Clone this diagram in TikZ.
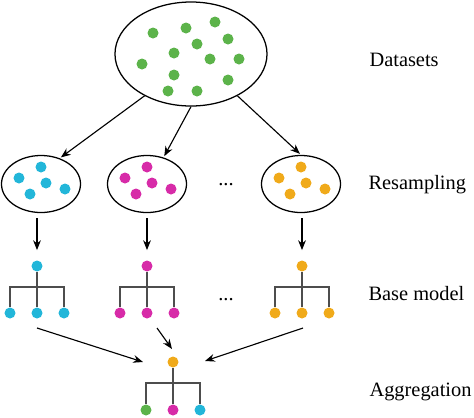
\documentclass[tikz,border=0pt]{standalone}
\usepackage{fontspec}
\setmainfont{Liberation Serif}
\usepackage[HTML]{xcolor}
\usepackage{tikz}
\usetikzlibrary{positioning, arrows, arrows.meta, shapes.geometric, calc}

\definecolor{dsgreen}{HTML}{5CB34A}
\definecolor{dscyan}{HTML}{22B6D9}
\definecolor{dsmagenta}{HTML}{D72BA8}
\definecolor{dsorange}{HTML}{F0AA1A}
\definecolor{treegray}{HTML}{4D4D4D}

\tikzset{
    dot/.style={circle, fill=#1, inner sep=0pt, minimum size=0.275cm},
    pool/.style={ellipse, draw, line width=0.9pt, inner sep=0pt},
    branch/.style={draw=treegray, line width=0.9pt},
    rowtext/.style={anchor=base west, inner sep=0pt, font=\fontsize{14.5}{17}\selectfont}
}

\begin{document}
\begin{tikzpicture}[x=0.025cm, y=-0.025cm, >={Stealth[length=7pt, width=5.5pt]}, line width=0.8pt]
    \useasboundingbox (0,0) rectangle (474,417);

    % Define nodes
    \node[pool, minimum width=3.8cm, minimum height=2.6cm] (data) at (191,54) {};
    \foreach \x/\y [count=\i] in {153/33, 186/28, 215/22, 228/39, 197/44, 174/53, 210/59,
                                   239/59, 142/64, 174/75, 228/80, 168/91, 197/91}
        \node[dot=dsgreen] (g\i) at (\x,\y) {};

    \foreach \k/\cx/\col in {1/41/dscyan, 2/147/dsmagenta, 3/301/dsorange}{
        \node[pool, minimum width=1.975cm, minimum height=1.425cm] (rs\k) at (\cx,184) {};
        \foreach \dx/\dy [count=\i] in {0/-17, -22/-6, 5/-1, 24/5, -11/10}
            \node[dot=\col] (s\k\i) at (\cx+\dx,184+\dy) {};
    }

    \foreach \k/\cx/\col in {1/37/dscyan, 2/147/dsmagenta, 3/302/dsorange}{
        \node[dot=\col] (m\k) at (\cx,266) {};
        \coordinate (j\k) at (\cx,287);
        \foreach \dx [count=\i] in {-27,0,27}
            \node[dot=\col] (m\k\i) at (\cx+\dx,313) {};
        \draw[branch] (m\k) -- (m\k2);
        \draw[branch] (m\k1) |- (j\k) -| (m\k3);
    }

    \node[dot=dsorange] (agg) at (173,362) {};
    \coordinate (jagg) at (173,383);
    \node[dot=dsgreen] (agg1) at (146,410) {};
    \node[dot=dsmagenta] (agg2) at (173,410) {};
    \node[dot=dscyan] (agg3) at (200,410) {};
    \draw[branch] (agg) -- (agg2);
    \draw[branch] (agg1) |- (jagg) -| (agg3);

    \node[rowtext] (tdata) at (369,66) {Datasets};
    \node[rowtext] (tres) at (368,189) {Resampling};
    \node[rowtext] (tbase) at (368,300) {Base model};
    \node[rowtext] (tagg) at (369,396) {Aggregation};
    \node[rowtext, anchor=base] (dots1) at (226,185) {...};
    \node[rowtext, anchor=base] (dots2) at (226,300) {...};

    % Draw arrows
    \draw[->, shorten >=1pt] (data.222) -- (rs1.54);
    \draw[->, shorten >=1pt] (data.south) -- (rs2.58);
    \draw[->, shorten >=1pt] (data.-42) -- (rs3.north);
    \foreach \k in {1,2,3}
        \draw[->, shorten <=3.5pt, shorten >=7pt] (rs\k.south -| m\k) -- (m\k);
    \draw[->] ($(m12)+(0,15)$) -- ($(agg)+(-30,0)$);
    \draw[->] ($(m22)+(10,15)$) -- ($(agg)+(-1,-13)$);
    \draw[->] ($(m32)+(1,15)$) -- ($(agg)+(32,-1)$);
\end{tikzpicture}
\end{document}
